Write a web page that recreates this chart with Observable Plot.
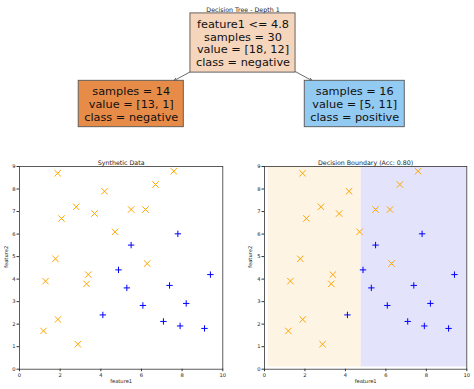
<!DOCTYPE html>
<html><head><meta charset="utf-8">
<script src="https://cdn.jsdelivr.net/npm/d3@7"></script>
<script src="https://cdn.jsdelivr.net/npm/@observablehq/plot@0.6"></script>
<style>
body{margin:0;background:#fff}
#fig{position:relative;width:474px;height:389px;overflow:hidden;background:#fff}
#fig > svg{position:absolute;margin:0}
</style>
</head><body><div id="fig"></div>
<script>
// ---- data ----
const negX = [1.88, 7.59, 6.69, 4.18, 2.79, 5.49, 6.20, 3.69, 2.07, 4.70, 1.77, 6.28, 3.38, 1.28, 3.30, 1.89, 1.18, 2.87];
const negY = [8.70, 8.79, 8.20, 7.90, 7.21, 7.09, 7.09, 6.91, 6.69, 6.10, 4.90, 4.69, 4.20, 3.91, 3.79, 2.21, 1.70, 1.11];
const posX = [7.79, 5.49, 4.87, 9.39, 7.38, 5.28, 8.20, 6.07, 4.10, 7.08, 7.90, 9.10];
const posY = [6.01, 5.51, 4.41, 4.20, 3.72, 3.61, 2.92, 2.83, 2.41, 2.12, 1.92, 1.81];
const xTicks = [0, 2, 4, 6, 8, 10];
const yTicks = [0, 1, 2, 3, 4, 5, 6, 7, 8, 9];
const classNames = ["negative", "positive"];
const treeTitle = "Decision Tree - Depth 1";
const nodeSplit = ["feature1 <= 4.8", null, null];
const nodeSamples = [30, 14, 16];
const nodeValues = [[18, 12], [13, 1], [5, 11]];
const nodeParent = [null, 0, 0];
const nodeX = [0.5, 0.25, 0.75];
const nodeY = [0.75, 0.25, 0.25];
const splitValue = 4.78;
const meshX = [0.2, 10.4];
const meshY = [0.1, 9.8];
const leftTitle = "Synthetic Data";
const rightTitle = "Decision Boundary (Acc: 0.80)";

// ---- styling ----
const FONT = "DejaVu Sans";
const classBase = [[229, 129, 57], [57, 157, 229]];
const markColor = ["orange", "blue"];
const regionColor = ["#fef4e3", "#e3e3fb"];
const fig = document.getElementById("fig");

function nodeColor(v) {
  const tot = v[0] + v[1];
  const f = v.map(d => d / tot);
  const k = f[0] >= f[1] ? 0 : 1;
  const sorted = [...f].sort((a, b) => b - a);
  const alpha = (sorted[0] - sorted[1]) / (1 - sorted[1]);
  const c = classBase[k].map(ch => Math.round(alpha * ch + (1 - alpha) * 255));
  return `rgb(${c[0]},${c[1]},${c[2]})`;
}

// ---- tree ----
(function tree() {
  const W = 474, H = 140, ml = 19, mr = 8, mt = 12, mb = 6;
  const fs = 11.3, lh = 12.8;
  const xS = Plot.scale({x: {domain: [0, 1], range: [ml, W - mr]}});
  const yS = Plot.scale({y: {domain: [0, 1], range: [H - mb, mt]}});
  const ctx = document.createElement("canvas").getContext("2d");
  ctx.font = `${fs}px "${FONT}"`;
  const nodes = nodeSamples.map((s, i) => {
    const v = nodeValues[i];
    const cls = classNames[v[0] >= v[1] ? 0 : 1];
    const lines = [];
    if (nodeSplit[i]) lines.push(nodeSplit[i]);
    lines.push(`samples = ${s}`, `value = [${v[0]}, ${v[1]}]`, `class = ${cls}`);
    const w = d3.max(lines, l => ctx.measureText(l).width);
    const cx = xS.apply(nodeX[i]), cy = yS.apply(nodeY[i]);
    const hw = w / 2 + 5.5, hh = lines.length * lh / 2 + 4;
    return {i, text: lines.join("\n"), cx, cy, hw, hh, fill: nodeColor(v),
      x: nodeX[i], y: nodeY[i],
      x1: xS.invert(cx - hw), x2: xS.invert(cx + hw),
      y1: yS.invert(cy + hh), y2: yS.invert(cy - hh)};
  });
  const edges = nodes.filter(n => nodeParent[n.i] != null).map(c => {
    const p = nodes[nodeParent[c.i]];
    const dx = c.cx - p.cx, dy = c.cy - p.cy;
    const tp = Math.min(p.hw / Math.abs(dx), p.hh / Math.abs(dy));
    const tc = 1 - Math.min(c.hw / Math.abs(dx), c.hh / Math.abs(dy));
    return {
      x1: xS.invert(p.cx + tp * dx), y1: yS.invert(p.cy + tp * dy),
      x2: xS.invert(p.cx + tc * dx), y2: yS.invert(p.cy + tc * dy)
    };
  });
  const svg = Plot.plot({
    width: W, height: H, marginLeft: ml, marginRight: mr, marginTop: mt, marginBottom: mb,
    x: {domain: [0, 1], axis: null}, y: {domain: [0, 1], axis: null},
    style: {fontFamily: FONT, background: "transparent", overflow: "visible"},
    marks: [
      Plot.arrow(edges, {x1: "x1", y1: "y1", x2: "x2", y2: "y2", stroke: "#444", strokeWidth: 0.8, headLength: 6, headAngle: 50}),
      Plot.rect(nodes, {x1: "x1", x2: "x2", y1: "y1", y2: "y2", fill: "fill", stroke: "#555", strokeWidth: 0.9}),
      Plot.text(nodes, {x: "x", y: "y", text: "text", fontSize: fs, lineHeight: lh / fs, fill: "#111"}),
      Plot.text([treeTitle], {frameAnchor: "top", dy: -5, fontSize: 6.3, fill: "#222"})
    ]
  });
  svg.style.left = "0px"; svg.style.top = "0px";
  fig.appendChild(svg);
})();

// ---- scatter plots ----
function scatter({left, width, ml, mr, title, shade, ylabDx}) {
  const H = 249, mt = 26, mb = 20.3;
  const neg = negX.map((x, i) => ({x, y: negY[i]}));
  const pos = posX.map((x, i) => ({x, y: posY[i]}));
  const regions = [
    {x1: meshX[0], x2: splitValue, c: 0},
    {x1: splitValue, x2: meshX[1], c: 1}
  ].map(r => ({...r, y1: meshY[0], y2: meshY[1], fill: regionColor[r.c]}));
  const marks = [];
  if (shade) marks.push(Plot.rect(regions, {x1: "x1", x2: "x2", y1: "y1", y2: "y2", fill: "fill", clip: true}));
  marks.push(
    Plot.frame({stroke: "#333", strokeWidth: 0.8}),
    Plot.axisX({ticks: xTicks, tickSize: 2.5, tickPadding: 1.5, fontSize: 5.2, label: null, stroke: "#333", color: "#222"}),
    Plot.axisY({ticks: yTicks, tickSize: 2.5, tickPadding: 1.5, fontSize: 5.2, label: null, stroke: "#333", color: "#222"}),
    Plot.dot(neg, {x: "x", y: "y", symbol: "times", r: 3, stroke: markColor[0], strokeWidth: 1}),
    Plot.dot(pos, {x: "x", y: "y", symbol: "plus", r: 2.2, stroke: markColor[1], strokeWidth: 1}),
    Plot.text([title], {frameAnchor: "top", dy: -5.5, fontSize: 6.3, fill: "#222"}),
    Plot.text(["feature1"], {frameAnchor: "bottom", dy: 13.3, fontSize: 5.2, fill: "#222"}),
    Plot.text(["feature2"], {frameAnchor: "left", dx: ylabDx, rotate: -90, fontSize: 5.2, fill: "#222"})
  );
  const svg = Plot.plot({
    width, height: H, marginLeft: ml, marginRight: mr, marginTop: mt, marginBottom: mb,
    x: {domain: [0, 10]}, y: {domain: [0, 9]},
    style: {fontFamily: FONT, background: "transparent", overflow: "visible"},
    marks
  });
  svg.style.left = left + "px"; svg.style.top = "140px";
  fig.appendChild(svg);
}
scatter({left: 0, width: 234, ml: 19, mr: 11.7, title: leftTitle, shade: false, ylabDx: -13.3});
scatter({left: 234, width: 240, ml: 30, mr: 7.7, title: rightTitle, shade: true, ylabDx: -14.3});
</script>
</body></html>
